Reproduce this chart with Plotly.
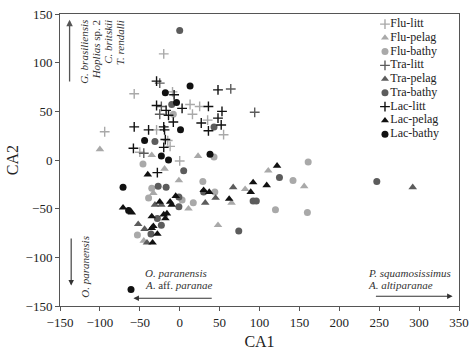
import plotly.graph_objects as go

# ---- data (CA1, CA2) ----
flu_litt_x = [-20, -57, -94, -9, 13, 25, 16, 35, -29, -15, -12, 55, 0, -50]
flu_litt_y = [109, 68, 29, 70, 57, 55, 47, 41, 31, 20, 14, 26, -1, 8]
flu_pelag_x = [-100, -35, 23, -19, -1, 82, 65, 111, 156, 48, -33, 11, -45]
flu_pelag_y = [11, 5, 4, -9, -21, -30, -44, -11, -27, -67, -34, -50, -83]
flu_bathy_x = [-8, 43, -46, -35, 29, 44, 142, 161, 120, 160, -53, 3, 17, -39]
flu_bathy_y = [47, 3, -4, -29, -22, -33, -21, -2, -51, -54, -77, -41, -44, -39]
tra_litt_x = [-25, -23, -25, 64, 94, -45]
tra_litt_y = [79, 55, 47, 73, 49, 7]
tra_pelag_x = [67, 32, 45, -52, -44, -41, -31, -23, 292]
tra_pelag_y = [-28, -44, -39, -66, -71, -85, -46, -46, -28]
tra_bathy_x = [0, -10, 43, -31, 5, -27, -17, 30, 92, 96, 125, 74, 247, -36, -28, -23, -1, -1]
tra_bathy_y = [133, 57, 34, 19, -11, -27, -28, -33, -42, -42, -18, -73, -22, -76, -60, -67, -48, -38]
lac_litt_x = [-29, -7, 48, -29, -17, 3, 36, -14, 53, 48, -8, 27, -20, -19, -39, -57, 52, 36, -18, -58, -20, -28]
lac_litt_y = [81, 67, 72, 56, 51, 53, 55, 46, 50, 43, 39, 38, 34, 31, 31, 34, 36, 30, 21, 12, 13, -13]
lac_pelag_x = [-40, 92, 89, 62, 122, 109, 30, 37, -71, -60, -35, -28, -35, -18, -16, -25, -12, -10, -5, -34, -33, -20]
lac_pelag_y = [-15, -23, -33, -40, -6, -26, -31, -33, -49, -54, -70, -76, -58, -60, -55, -43, -43, -46, -37, -85, -68, -56]
lac_bathy_x = [13, -18, -4, 1, -44, 38, -14, -23, -71, -64, -61]
lac_bathy_y = [76, 69, 59, 31, 20, 6, 0, 4, -28, -52, -133]

x_ticks = [-150, -100, -50, 0, 50, 100, 150, 200, 250, 300, 350]
y_ticks = [-150, -100, -50, 0, 50, 100, 150]

names = ["Flu-litt", "Flu-pelag", "Flu-bathy", "Tra-litt", "Tra-pelag",
         "Tra-bathy", "Lac-litt", "Lac-pelag", "Lac-bathy"]

FLU = "#a9a9a9"
TRA = "#5c5c5c"
LAC = "#111111"

series = [
    (flu_litt_x, flu_litt_y, "cross-thin", FLU),
    (flu_pelag_x, flu_pelag_y, "triangle-up", FLU),
    (flu_bathy_x, flu_bathy_y, "circle", FLU),
    (tra_litt_x, tra_litt_y, "cross-thin", TRA),
    (tra_pelag_x, tra_pelag_y, "triangle-up", TRA),
    (tra_bathy_x, tra_bathy_y, "circle", TRA),
    (lac_litt_x, lac_litt_y, "cross-thin", LAC),
    (lac_pelag_x, lac_pelag_y, "triangle-up", LAC),
    (lac_bathy_x, lac_bathy_y, "circle", LAC),
]


def marker_for(sym, col):
    if sym == "cross-thin":
        return dict(symbol=sym, size=7, color=col, line=dict(color=col, width=1.4))
    return dict(symbol=sym, size=7 if sym == "circle" else 7.5, color=col, line=dict(width=0))


fig = go.Figure()
for name, (xs, ys, sym, col) in zip(names, series):
    fig.add_trace(go.Scatter(x=xs, y=ys, mode="markers", name=name,
                             marker=marker_for(sym, col), showlegend=False))

# legend drawn on a separate categorical axis pair (compact spacing like the original)
leg_sym = [s[2] for s in series]
leg_col = [s[3] for s in series]
fig.add_trace(go.Scatter(
    x=[0] * len(names), y=names, xaxis="x2", yaxis="y2",
    mode="markers+text", text=names, textposition="middle right",
    textfont=dict(family="Liberation Serif", size=12, color="#222222"),
    marker=dict(symbol=leg_sym, size=7, color=leg_col,
                line=dict(color=leg_col, width=[1.4 if s == "cross-thin" else 0 for s in leg_sym])),
    showlegend=False, cliponaxis=False, hoverinfo="skip"))

serif = "Liberation Serif"
ann_font = dict(family=serif, size=11, color="#333333")

annotations = [
    # top-left arrow (up)
    dict(x=-138, y=144, ax=-138, ay=79, xref="x", yref="y", axref="x", ayref="y",
         text="", showarrow=True, arrowhead=2, arrowsize=1, arrowwidth=1.3, arrowcolor="#555555"),
    # bottom-left arrow (down)
    dict(x=-136, y=-129, ax=-136, ay=-79, xref="x", yref="y", axref="x", ayref="y",
         text="", showarrow=True, arrowhead=2, arrowsize=1, arrowwidth=1.1, arrowcolor="#333333"),
    dict(x=-119, y=-110, xref="x", yref="y", textangle=-90, showarrow=False,
         text="<i>O. paranensis</i>", font=ann_font),
    # bottom middle arrow (left)
    dict(x=-58, y=-142, ax=42, ay=-142, xref="x", yref="y", axref="x", ayref="y",
         text="", showarrow=True, arrowhead=2, arrowsize=1, arrowwidth=1.1, arrowcolor="#333333"),
    # bottom right arrow (right)
    dict(x=342, y=-140, ax=244, ay=-140, xref="x", yref="y", axref="x", ayref="y",
         text="", showarrow=True, arrowhead=2, arrowsize=1, arrowwidth=1.1, arrowcolor="#333333"),
]

# top-left rotated species list (one annotation per line, tight spacing)
top_lines = ["<i>G. brasiliensis</i>", "<i>Hoplias</i> sp. 2", "<i>C. britskii</i>", "<i>T. rendalli</i>"]
for i, t in enumerate(top_lines):
    annotations.append(dict(x=-120, y=146, xref="x", yref="y", xanchor="center", yanchor="top",
                            xshift=i * 12, textangle=-90, showarrow=False, text=t, font=ann_font))

mid_lines = ["<i>O. paranensis</i>", "<i>A</i>. aff. <i>paranae</i>"]
for i, t in enumerate(mid_lines):
    annotations.append(dict(x=-46, y=-122, xref="x", yref="y", xanchor="left", yanchor="middle",
                            yshift=6 - i * 12, showarrow=False, text=t, font=ann_font))

right_lines = ["<i>P. squamosissimus</i>", "<i>A. altiparanae</i>"]
for i, t in enumerate(right_lines):
    annotations.append(dict(x=234, y=-122, xref="x", yref="y", xanchor="left", yanchor="middle",
                            yshift=6 - i * 12, showarrow=False, text=t, font=ann_font))

axis_common = dict(
    showgrid=False, zeroline=False, showline=True, linecolor="#555555", linewidth=1,
    mirror=True, ticks="outside", ticklen=4, tickcolor="#555555", automargin=False,
    tickfont=dict(family=serif, size=13, color="#222222"),
)

fig.update_layout(
    width=474, height=357,
    margin=dict(l=60, r=15, t=14, b=51),
    paper_bgcolor="white", plot_bgcolor="white",
    font=dict(family=serif, color="#222222"),
    xaxis=dict(range=[-150, 350], tickvals=x_ticks, domain=[0, 1],
               title=dict(text="CA1", font=dict(family=serif, size=16), standoff=7),
               **axis_common),
    yaxis=dict(range=[-150, 150], tickvals=y_ticks, domain=[0, 1],
               title=dict(text="CA2", font=dict(family=serif, size=16), standoff=2),
               **axis_common),
    xaxis2=dict(domain=[0.8145, 1.0], range=[0, 1], anchor="y2",
                visible=False, fixedrange=True),
    yaxis2=dict(domain=[0.565, 0.989], type="category", categoryorder="array",
                categoryarray=names, range=[8.5, -0.5], autorange=False, anchor="x2",
                visible=False, fixedrange=True),
    annotations=annotations,
    showlegend=False,
)

fig.write_html("out.html", config={"displayModeBar": False},
               post_script="document.body.style.margin='0px';document.body.style.overflow='hidden';")
